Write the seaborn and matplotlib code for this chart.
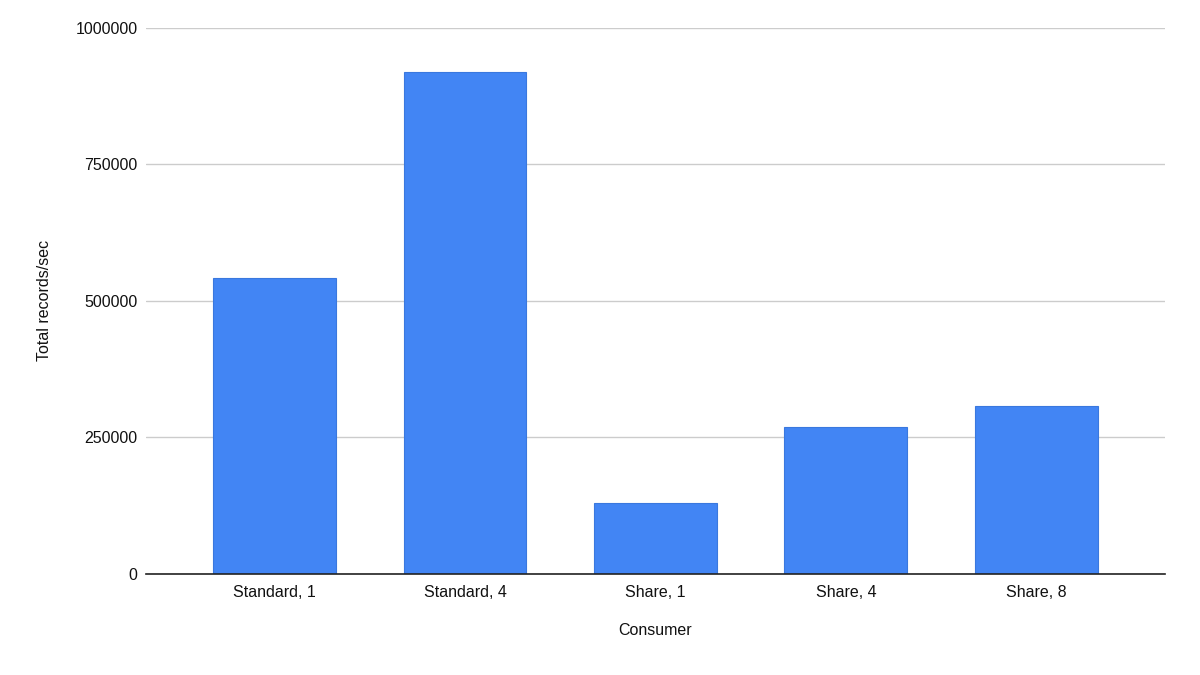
import seaborn as sns
import matplotlib.pyplot as plt
import pandas as pd

consumers = ['Standard, 1', 'Standard, 4', 'Share, 1', 'Share, 4', 'Share, 8']
records_per_sec = [542000, 920000, 129000, 268000, 307000]
y_ticks = [0, 250000, 500000, 750000, 1000000]

df = pd.DataFrame({'Consumer': consumers, 'Total records/sec': records_per_sec})

sns.set_theme(style='white')
plt.rcParams['font.family'] = ['Liberation Sans', 'DejaVu Sans']

fig = plt.figure(figsize=(12, 6.75), dpi=100)
ax = fig.add_axes([0.1217, 0.150, 0.849, 0.8085])

sns.barplot(data=df, x='Consumer', y='Total records/sec', color='#4285F4',
            saturation=1, width=0.645, edgecolor='#3A78DE', linewidth=0.8, ax=ax, zorder=3)

ax.set_ylim(0, 1000000)
# the chart leaves some extra room at both ends of the category axis
ax.set_xlim(-0.675, len(consumers) - 1 + 0.675)
ax.set_yticks(y_ticks)
ax.set_yticklabels([str(t) for t in y_ticks])
ax.yaxis.grid(True, color='#CCCCCC', linewidth=1, zorder=0)
ax.set_axisbelow(True)

for side in ['top', 'right', 'left']:
    ax.spines[side].set_visible(False)
ax.spines['bottom'].set_color('#222222')
ax.spines['bottom'].set_linewidth(1.2)
ax.spines['bottom'].set_zorder(4)

ax.tick_params(axis='both', length=0, labelsize=11.5, colors='#111111')
ax.tick_params(axis='x', pad=8)
ax.tick_params(axis='y', pad=6)
ax.set_xlabel('Consumer', fontsize=11.5, color='#111111', labelpad=17)
ax.set_ylabel('Total records/sec', fontsize=11.5, color='#111111', labelpad=17)

fig.savefig('out.png', dpi=100)
